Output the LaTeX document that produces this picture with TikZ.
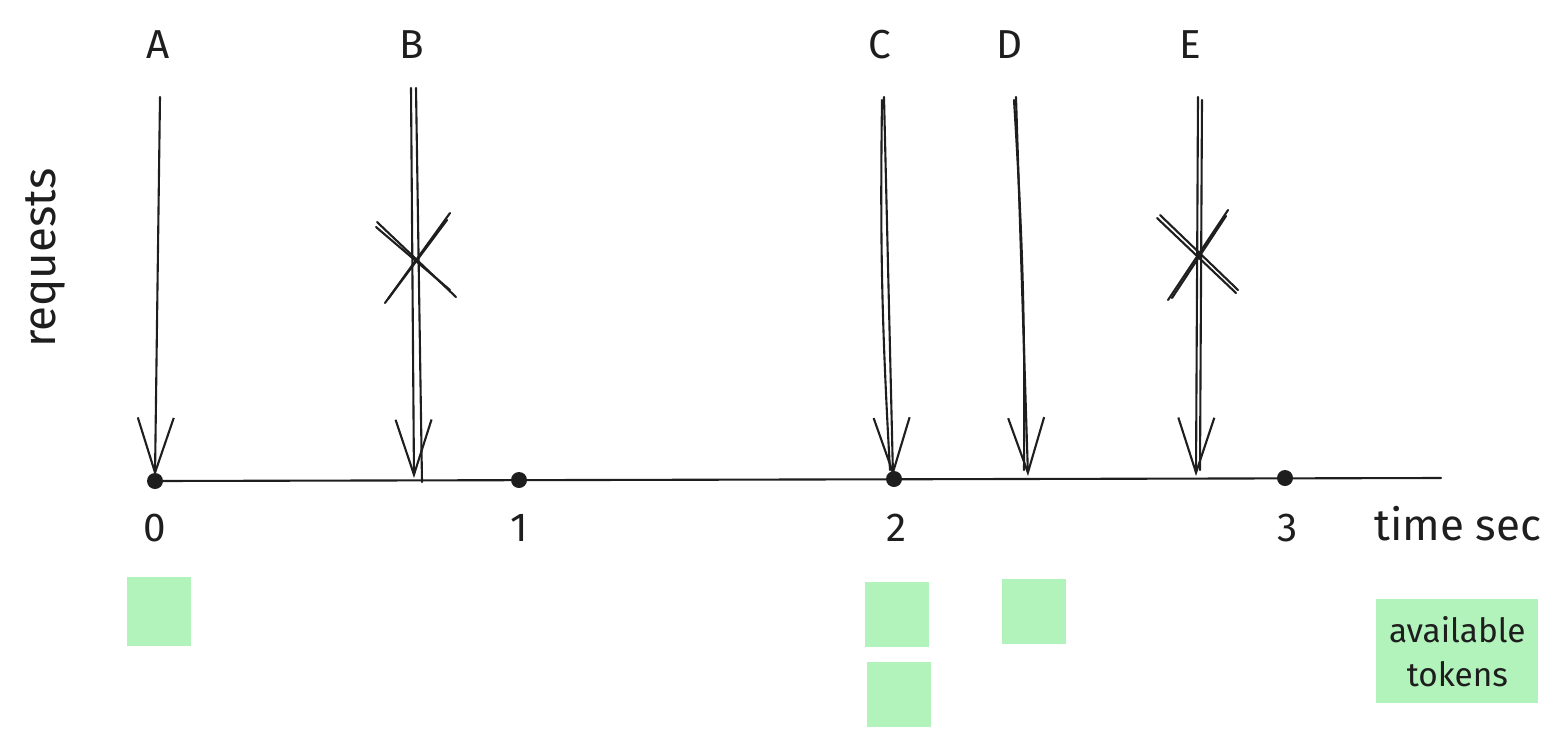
\documentclass[tikz,border=0pt]{standalone}
\usepackage{fontspec}
\setmainfont{Fira Sans}
\usetikzlibrary{arrows.meta}
\definecolor{tokgreen}{HTML}{B2F2BB}
\definecolor{ink}{HTML}{1E1E1E}
\begin{document}
\begin{tikzpicture}[x=0.02cm,y=-0.02cm,
  ink line/.style={draw=ink,line width=1.2pt,line cap=round},
  req/.style={ink line,-{Straight Barb[length=1.1cm,width=0.72cm,line width=1.2pt]}},
  dot/.style={circle,fill=ink,inner sep=0pt,minimum size=0.32cm},
  lbl/.style={font=\fontsize{23}{26}\selectfont,text=ink},
  token/.style={fill=tokgreen,draw=none},
  xmark/.style={ink line}]
\useasboundingbox (0,0) rectangle (1559,748);
% axis
\coordinate (axL) at (155,481);
\coordinate (axR) at (1441,478);
\draw[ink line] (axL) -- (axR);
\node[dot] (t0) at (155,481) {};
\node[dot] (t1) at (519,480) {};
\node[dot] (t2) at (894,479) {};
\node[dot] (t3) at (1285,478) {};
\node[lbl] (l0) at (155,528) {0};
\node[lbl] (l1) at (519,528) {1};
\node[lbl] (l2) at (896,528) {2};
\node[lbl] (l3) at (1288,528) {3};
\node[lbl,anchor=west,font=\fontsize{25}{28}\selectfont] (ltime) at (1368,524) {time sec};
\node[lbl,rotate=90,font=\fontsize{26}{28}\selectfont] (lreq) at (45,258) {requests};
% request letters
\node[lbl] (A) at (158,45) {A};
\node[lbl] (B) at (412,45) {B};
\node[lbl] (C) at (880,45) {C};
\node[lbl] (D) at (1010,45) {D};
\node[lbl] (E) at (1190,45) {E};
% arrow starts/ends
\coordinate (sA) at (160,97);  \coordinate (eA) at (155,476);
\coordinate (sB) at (411,88);  \coordinate (eB) at (414,478);
\coordinate (sC) at (884,97);  \coordinate (eC) at (893,476);
\coordinate (sD) at (1016,97); \coordinate (eD) at (1028,476);
\coordinate (sE) at (1198,97); \coordinate (eE) at (1196,476);
\draw[req] (sA) -- (eA);
\draw[req] (sB) -- (eB);
\draw[ink line] (416,88) -- (422,482);
\draw[req] (sC) -- (eC);
\draw[ink line] (882,100) to[bend right=2] (890,470);
\draw[req] (sD) -- (eD);
\draw[ink line] (1014,100) to[bend left=2] (1024,470);
\draw[req] (sE) -- (eE);
\draw[ink line] (1202,100) -- (1200,470);
% X marks
\coordinate (xB1) at (377,222); \coordinate (xB2) at (456,297);
\coordinate (xB3) at (385,303); \coordinate (xB4) at (450,213);
\draw[xmark] (xB1) -- (xB2);
\draw[xmark] (376,227) -- (450,290);
\draw[xmark] (xB3) -- (xB4);
\draw[xmark] (388,299) -- (447,220);
\coordinate (xE1) at (1157,218); \coordinate (xE2) at (1236,293);
\coordinate (xE3) at (1168,300); \coordinate (xE4) at (1228,210);
\draw[xmark] (xE1) -- (xE2);
\draw[xmark] (1160,215) -- (1238,290);
\draw[xmark] (xE3) -- (xE4);
\draw[xmark] (1172,298) -- (1226,216);
% tokens
\fill[token] (127,577) rectangle (191,646);
\fill[token] (865,582) rectangle (929,647);
\fill[token] (867,662) rectangle (931,727);
\fill[token] (1002,579) rectangle (1066,644);
\node[token,minimum width=3.24cm,minimum height=2.08cm,anchor=north west,align=center,font=\fontsize{19}{25}\selectfont,text=ink] (legend) at (1376,599) {available\\tokens};
\end{tikzpicture}
\end{document}
